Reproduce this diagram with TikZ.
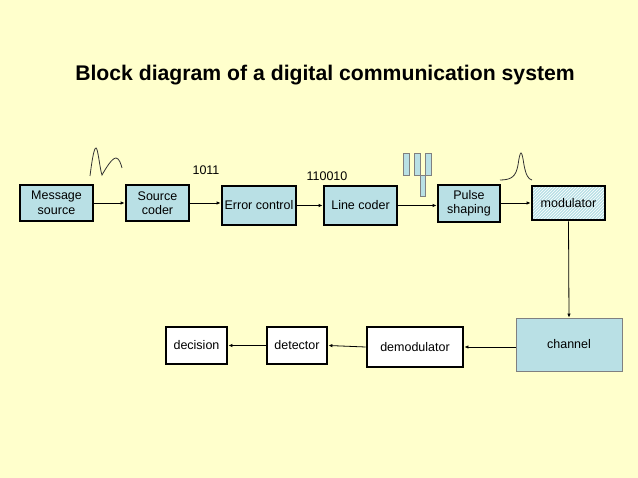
\documentclass[tikz,border=0pt]{standalone}
\usepackage{fontspec}
\setmainfont{Liberation Sans}
\usetikzlibrary{patterns,arrows.meta}
\definecolor{bg}{RGB}{255,255,204}
\definecolor{boxblue}{RGB}{185,224,229}
\begin{document}
\begin{tikzpicture}[x=1pt,y=-1pt,
  blk/.style={draw=black,line width=2.8pt,fill=boxblue,inner sep=0pt,font=\fontsize{12.5}{14.5}\selectfont,align=center},
  wblk/.style={blk,fill=white},
  conn/.style={line width=0.8pt,-{Latex[length=4pt,width=3.5pt]}},
  lbl/.style={font=\fontsize{12.5}{14.5}\selectfont}]
\fill[bg] (0,0) rectangle (638,478);
\useasboundingbox (0,0) rectangle (638,478);
\node[font=\bfseries\fontsize{21.2}{25}\selectfont] (title) at (325,75) {Block diagram of a digital communication system};
% top row
\node[blk,minimum width=73pt,minimum height=36pt] (msg) at (56.5,203) {Message\\source};
\node[blk,minimum width=63pt,minimum height=36pt] (src) at (157.5,203) {Source\\coder};
\node[blk,minimum width=74pt,minimum height=39pt] (err) at (259,205.5) {Error control};
\node[blk,minimum width=73pt,minimum height=39pt] (line) at (360.5,205.5) {Line coder};
\node[blk,minimum width=62pt,minimum height=37pt] (pulse) at (469,203.5) {Pulse\\shaping};
\path[fill=boxblue] (532,186) rectangle (605,220);
\path[pattern={north east lines},pattern color=white] (532,186) rectangle (605,220);
\node[draw=black,line width=2.8pt,minimum width=73pt,minimum height=34pt,inner sep=0pt,font=\fontsize{12.5}{14.5}\selectfont] (mod) at (568.5,203) {modulator};
% bottom row
\node[draw=gray,line width=0.8pt,fill=boxblue,minimum width=106pt,minimum height=53pt,inner sep=0pt,font=\fontsize{12.5}{14.5}\selectfont] (chan) at (569,344.5) {channel};
\node[wblk,minimum width=96pt,minimum height=40pt] (demod) at (415,347) {demodulator};
\node[wblk,minimum width=60pt,minimum height=37pt] (det) at (297,345.5) {detector};
\node[wblk,minimum width=61pt,minimum height=37pt] (dec) at (196.5,345.5) {decision};
% connectors
\draw[conn] (msg.east) -- (src.west);
\draw[conn] (src.east) -- (err.west |- src.east);
\draw[conn] (err.east) -- (line.west);
\draw[conn] (line.east) -- (pulse.west |- line.east);
\draw[conn] (pulse.east |- mod.west) -- (mod.west);
\draw[conn] (mod.south) -- (chan.north);
\draw[conn] (chan.west |- demod.east) -- (demod.east);
\draw[conn] (demod.west) -- (det.east);
\draw[conn] (det.west) -- (dec.east);
% labels
\node[lbl] (b1) at (206,170) {1011};
\node[lbl] (b2) at (327,176) {110010};
% analog waveform
\draw[line width=0.8pt,black!80] (90,176) .. controls (92,160) and (94,148) .. (96,148)
  .. controls (98,148) and (100,170) .. (102,175)
  .. controls (106,168) and (112,158) .. (116,158)
  .. controls (119,158) and (121,164) .. (122,168);
% digital bars
\tikzset{bar/.style={draw=gray,fill=boxblue,line width=0.6pt}}
\draw[bar] (403.5,153.5) rectangle (409.5,175.5);
\draw[bar] (414,153.5) rectangle (420,175.5);
\draw[bar] (425,153.5) rectangle (431,175.5);
\draw[bar] (420,175.5) rectangle (425,196);
% gaussian pulse
\draw[line width=0.8pt,black!80] (500,180) .. controls (512,180) and (516,176) .. (518,165)
  .. controls (519,158) and (520,153) .. (521,153)
  .. controls (522,153) and (523,158) .. (524,165)
  .. controls (526,175) and (528,179) .. (532,180);
\end{tikzpicture}
\end{document}
